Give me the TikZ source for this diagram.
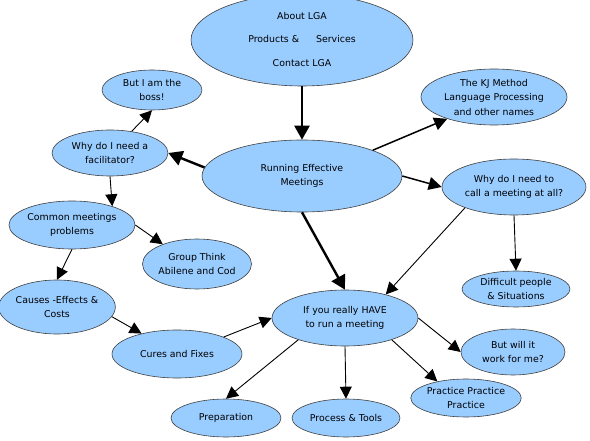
\documentclass[tikz,border=0pt]{standalone}
\usepackage{fontspec}
\setmainfont{DejaVu Sans}
\usetikzlibrary{arrows.meta,shapes.geometric}
\definecolor{skyblue}{RGB}{153,204,255}
\tikzset{
  bubble/.style={
    ellipse,
    fill=skyblue,
    draw=black!75, line width=0.6pt,
    inner sep=0pt,
    align=center,
    font=\fontsize{9.4}{14.5}\selectfont},
  line/.style={draw, line width=0.9pt, -{Triangle[length=12pt,width=12pt]}},
  midline/.style={draw, line width=1.5pt, -{Triangle[length=13pt,width=13pt]}},
  heavy/.style={draw, line width=2.4pt, -{Triangle[length=14pt,width=15pt]}},
}

\begin{document}
\begin{tikzpicture}
  [x=1pt, y=-1pt]
  \useasboundingbox (0,0) rectangle (590,441);
     \node[bubble, minimum width=222pt, minimum height=92pt] (AboutLGA) at (302,40)
       {\raisebox{4pt}{\begin{tabular}{@{}c@{}}About LGA\\[9pt]Products \&\hspace{1.8em}Services\\[9pt]Contact LGA\end{tabular}}};
     \node[bubble, minimum width=200pt, minimum height=72pt] (Running) at (302,176) {Running Effective\\Meetings};
     \node[bubble, minimum width=100pt, minimum height=40pt] (Boss) at (152,90) {But I am the\\boss!};
     \node[bubble, minimum width=116pt, minimum height=46pt] (Facilitator) at (110,153) {Why do I need a\\facilitator?};
     \node[bubble, minimum width=120pt, minimum height=48pt] (CommonProblems) at (72,225) {Common meetings\\problems};
     \node[bubble, minimum width=90pt, minimum height=50pt] (GroupThink) at (197,264) {Group Think\\Abilene and Cod};
     \node[bubble, minimum width=110pt, minimum height=54pt] (Causes) at (57,307) {Causes -Effects \&\\Costs};
     \node[bubble, minimum width=130pt, minimum height=48pt] (Cures) at (177,354) {Cures and Fixes};
     \node[bubble, minimum width=146pt, minimum height=56pt] (HaveTo) at (345,318) {If you really HAVE\\to run a meeting};
     \node[bubble, minimum width=110pt, minimum height=38pt] (Preparation) at (226,418) {Preparation};
     \node[bubble, minimum width=108pt, minimum height=38pt] (ProcessTools) at (346,418) {Process \& Tools};
     \node[bubble, minimum width=108pt, minimum height=38pt] (Practice) at (466,398) {Practice Practice\\Practice};
     \node[bubble, minimum width=104pt, minimum height=46pt] (WorkForMe) at (513,352) {But will it\\work for me?};
     \node[bubble, minimum width=108pt, minimum height=36pt] (Difficult) at (516,289) {Difficult people\\\& Situations};
     \node[bubble, minimum width=144pt, minimum height=56pt] (CallMeeting) at (514,187) {Why do I need to\\call a meeting at all?};
     \node[bubble, minimum width=146pt, minimum height=56pt] (KJMethod) at (494,97) {The KJ Method\\Language Processing\\and other names};
  % connectors
     \path[heavy] (AboutLGA.south) -- (Running.north);
     \path[heavy] (Running.175) -- (Facilitator.east);
     \path[heavy] (Running.south) -- (HaveTo.north);
     \path[midline] (Running.20) -- (KJMethod.205);
     \path[midline] (Running.east) -- (CallMeeting.west);
     \path[line] (CallMeeting.203) -- (HaveTo.30);
     \path[line] (CallMeeting.south) -- (Difficult.north);
     \path[line] (Facilitator.45) -- (Boss.south);
     \path[line] (Facilitator.south) -- (CommonProblems.25);
     \path[line] (CommonProblems.east) -- (GroupThink.150);
     \path[line] (CommonProblems.south) -- (Causes.north);
     \path[line] (Causes.350) -- (Cures.150);
     \path[line] (Cures.20) -- (HaveTo.west);
     \path[line] (HaveTo.205) -- (Preparation.north);
     \path[line] (HaveTo.south) -- (ProcessTools.north);
     \path[line] (HaveTo.335) -- (Practice.150);
     \path[line] (HaveTo.east) -- (WorkForMe.west);
\end{tikzpicture}
\end{document}
